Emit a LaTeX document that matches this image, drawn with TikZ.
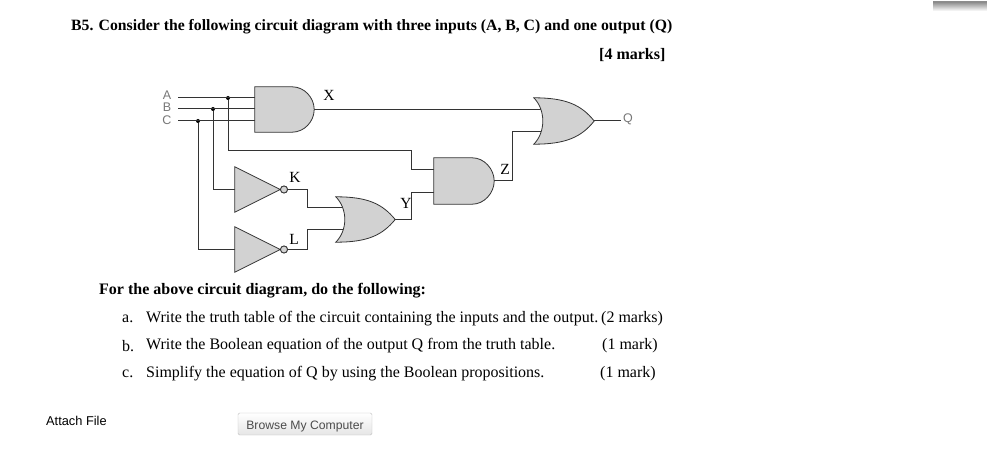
\documentclass[tikz,border=0pt]{standalone}
\usepackage{fontspec}
\setmainfont{Liberation Serif}
\newfontfamily\uifont{Liberation Sans}
\definecolor{gatefill}{HTML}{D2D2D2}
\definecolor{wiregray}{HTML}{333333}
\definecolor{pingray}{HTML}{777777}
\newcommand{\andbody}[1]{\draw[gate] ([xshift=-22pt]#1.north east) .. controls ([xshift=-10pt]#1.north east) and ([yshift=12pt]#1.east) .. (#1.east) .. controls ([yshift=-12pt]#1.east) and ([xshift=-10pt]#1.south east) .. ([xshift=-22pt]#1.south east) -- (#1.south west) -- (#1.north west) -- cycle;}
\newcommand{\orbody}[1]{\draw[gate] (#1.north west) .. controls ([xshift=32pt]#1.north west) and ([xshift=-13pt,yshift=-7pt]#1.north east) .. (#1.east) .. controls ([xshift=-13pt,yshift=7pt]#1.south east) and ([xshift=32pt]#1.south west) .. (#1.south west) .. controls ([xshift=12pt,yshift=12pt]#1.south west) and ([xshift=12pt,yshift=-12pt]#1.north west) .. (#1.north west) -- cycle;}
\newcommand{\notbody}[1]{\draw[gate] (#1.north west) -- (#1.east) -- (#1.south west) -- cycle;}
\begin{document}
\begin{tikzpicture}[x=1pt, y=-1pt]%
	\tikzstyle{gate}=[draw=black!80, fill=gatefill, line width=0.8pt];
	\tikzstyle{gatebox}=[rectangle, inner sep=0pt];
	\tikzstyle{bubble}=[circle, draw=black!80, fill=gatefill, line width=0.8pt, inner sep=0pt, minimum size=7pt];
	\tikzstyle{wire}=[draw=wiregray, line width=1pt];
	\tikzstyle{dot}=[circle, fill=black, inner sep=0pt, minimum size=4pt];
	\tikzstyle{sig}=[font=\fontsize{15.5}{15.5}\selectfont, inner sep=0pt];
	\tikzstyle{pin}=[font=\uifont\fontsize{12.5}{12.5}\selectfont, text=pingray, inner sep=0pt];
	\tikzstyle{head}=[font=\bfseries\fontsize{16}{16}\selectfont, anchor=west, inner sep=0pt];
	\tikzstyle{item}=[font=\fontsize{16}{16}\selectfont, anchor=west, inner sep=0pt];
	\useasboundingbox (0, 0) rectangle (987, 470);
	% window shadow
	\shade[top color=black!40, bottom color=white] (933, 3) rectangle (987, 11);
	\fill[black!45] (933, 1) rectangle (987, 3);
	% question text
	\node[head, font=\bfseries\fontsize{15.73}{15.73}\selectfont] (title) at (71, 27) {B5. Consider the following circuit diagram with three inputs (A, B, C) and one output (Q)};
	\node[head] (marks) at (599, 55) {[4 marks]};
	\node[head] (intro) at (99, 291) {For the above circuit diagram, do the following:};
	\node[item] (la) at (122, 319) {a.};
	\node[item] (ta) at (146, 319) {Write the truth table of the circuit containing the inputs and the output.};
	\node[item] (ma) at (601, 319) {(2 marks)};
	\node[item] (lb) at (122, 346) {b.};
	\node[item] (tb) at (146, 346) {Write the Boolean equation of the output Q from the truth table.};
	\node[item] (mb) at (602, 346) {(1 mark)};
	\node[item] (lc) at (122, 374) {c.};
	\node[item] (tc) at (146, 374) {Simplify the equation of Q by using the Boolean propositions.};
	\node[item] (mc) at (600, 374) {(1 mark)};
	\node[font=\uifont\fontsize{12.8}{12.8}\selectfont, anchor=west, inner sep=0pt] (attach) at (46, 421) {Attach File};
	\node[draw=black!25, rounded corners=1.5pt, top color=white, bottom color=black!10, minimum width=134pt, minimum height=22pt, inner sep=0pt, text=black!70, text height=12pt, text depth=2pt, font=\uifont\fontsize{12.2}{12.2}\selectfont] (browse) at (305, 424) {Browse My Computer};
	% inputs
	\node[pin] (pina) at (167, 95) {A};
	\node[pin] (pinb) at (167, 107) {B};
	\node[pin] (pinc) at (167, 120) {C};
	\coordinate (ina) at (178, 98);
	\coordinate (inb) at (178, 109);
	\coordinate (inc) at (178, 121);
	% gates
	\node[gatebox, minimum width=59pt, minimum height=45pt] (andx) at (284.5, 109.5) {};
	\node[gatebox, minimum width=60pt, minimum height=46pt] (andz) at (464, 181) {};
	\node[gatebox, minimum width=59pt, minimum height=45pt] (ory) at (365.5, 219.5) {};
	\node[gatebox, minimum width=60pt, minimum height=46pt] (orq) at (564, 121) {};
	\node[gatebox, minimum width=45pt, minimum height=45pt] (notk) at (257.5, 189.5) {};
	\node[gatebox, minimum width=45pt, minimum height=45pt] (notl) at (257.5, 249.5) {};
	\node[bubble] (bubk) at (284, 189.5) {};
	\node[bubble] (bubl) at (284, 249.5) {};
	% junctions
	\node[dot] (dota) at (228, 98) {};
	\node[dot] (dotb) at (213, 109) {};
	\node[dot] (dotc) at (198, 121) {};
	% wires
	\draw[wire] (ina) -- (andx.center |- ina);
	\draw[wire] (inb) -- (andx.center |- inb);
	\draw[wire] (inc) -- (andx.center |- inc);
	\draw[wire] (dota) |- (411, 151) |- (andz.center |- 0, 170);
	\draw[wire] (dotb) |- (notk.center);
	\draw[wire] (dotc) |- (notl.center);
	\draw[wire] (bubk.east) -| (307, 208) -- (ory.center |- 0, 208);
	\draw[wire] (bubl.east) -| (307, 230) -- (ory.center |- 0, 230);
	\draw[wire] (ory.east) -| (411, 193) -- (andz.center |- 0, 193);
	\draw[wire] (andx.east) -- (orq.center |- andx.east);
	\draw[wire] (andz.east) -| (512, 132) -- (orq.center |- 0, 132);
	\coordinate (outq) at (621, 121);
	\draw[wire] (orq.east) -- (outq);
	% gate bodies go over the wire ends
	\andbody{andx}
	\andbody{andz}
	\orbody{ory}
	\orbody{orq}
	\notbody{notk}
	\notbody{notl}
	\node[bubble] at (bubk) {};
	\node[bubble] at (bubl) {};
	\node[pin] (pinq) at (628, 119) {Q};
	% signal names
	\node[sig] (x) at (329, 95) {X};
	\node[sig] (k) at (295, 177) {K};
	\node[sig] (l) at (294, 239) {L};
	\node[sig] (y) at (406, 203) {Y};
	\node[sig] (z) at (505, 169) {Z};
\end{tikzpicture}
\end{document}
